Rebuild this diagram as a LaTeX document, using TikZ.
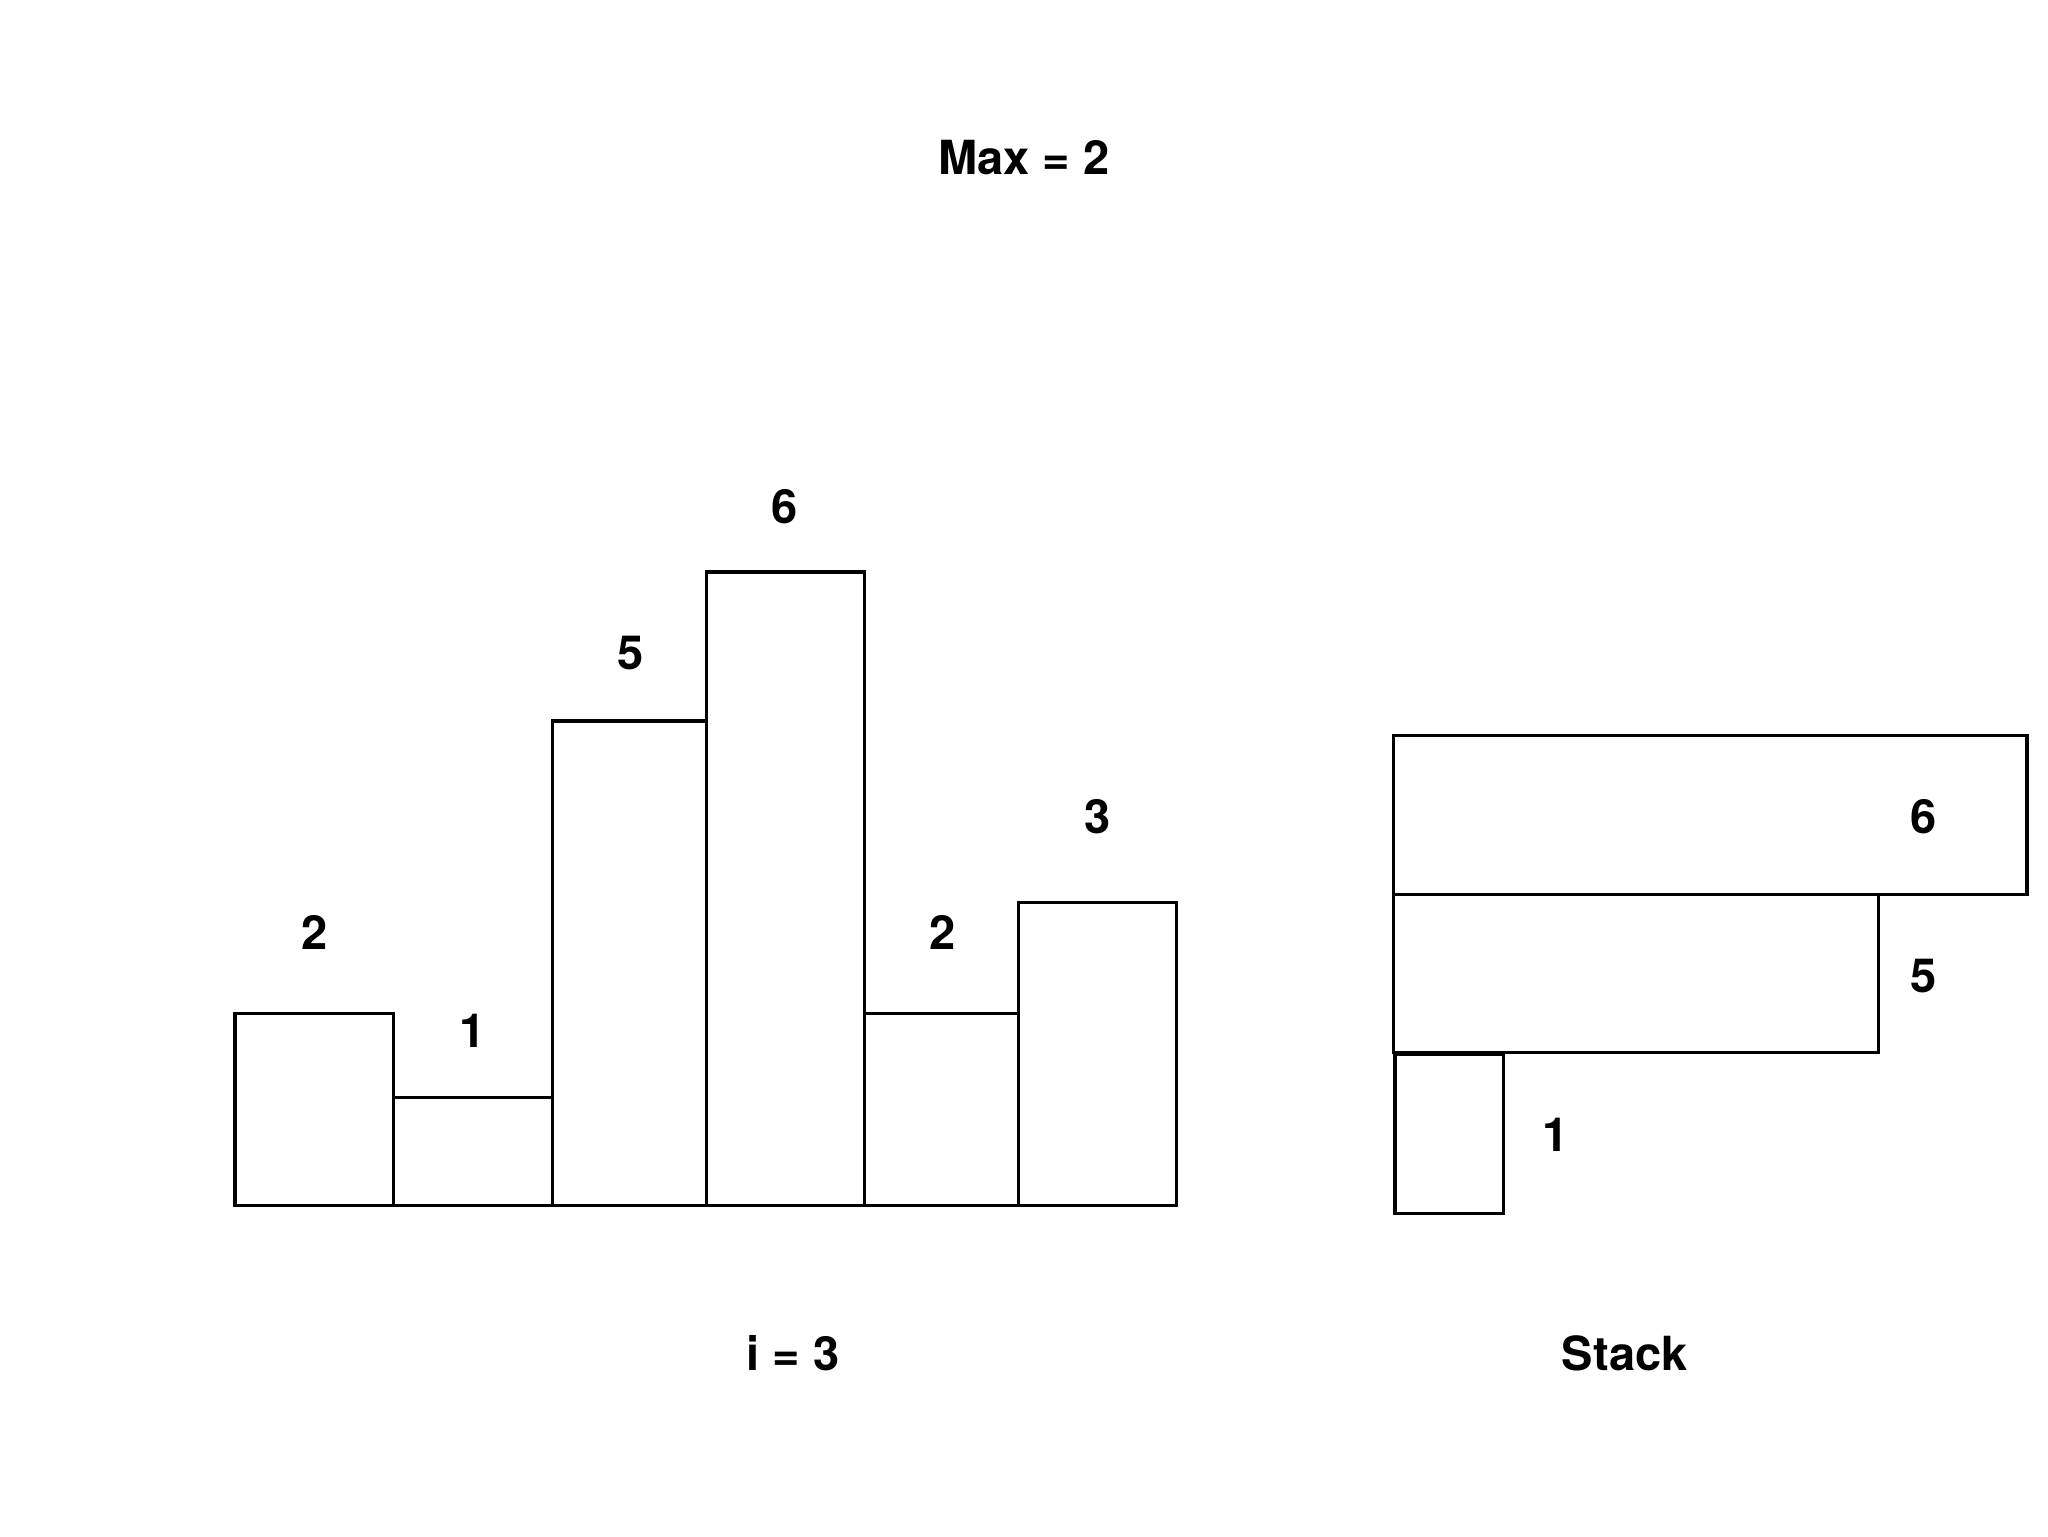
\documentclass[tikz,border=0pt]{standalone}
\usepackage{fontspec}
\setmainfont{TeX Gyre Heros}
\begin{document}
\begin{tikzpicture}[x=1pt,y=-1pt,
  bar/.style={draw=black,line width=2.5pt},
  lbl/.style={font=\bfseries\fontsize{36}{40}\selectfont,inner sep=0pt}]
\useasboundingbox (0,0) rectangle (1568,1176);
% histogram bars
\draw[bar] (180,923) rectangle (301,776);
\draw[bar] (301,923) rectangle (423,840);
\draw[bar] (423,923) rectangle (541,552);
\draw[bar] (541,923) rectangle (662,438);
\draw[bar] (662,923) rectangle (780,776);
\draw[bar] (780,923) rectangle (901,691);
\node[lbl] (l1) at (241,714) {2};
\node[lbl] (l2) at (362,789) {1};
\node[lbl] (l3) at (483,500) {5};
\node[lbl] (l4) at (601,388) {6};
\node[lbl] (l5) at (722,714) {2};
\node[lbl] (l6) at (840,625) {3};
% stack
\draw[bar] (1067,563) rectangle (1552,685);
\draw[bar] (1067,685) rectangle (1438,806);
\draw[bar] (1068,807) rectangle (1151,929);
\node[lbl] (s6) at (1473,625) {6};
\node[lbl] (s5) at (1473,747) {5};
\node[lbl] (s1) at (1191,869) {1};
% captions
\node[lbl] (max) at (784,121) {Max = 2};
\node[lbl] (idx) at (607,1036) {i = 3};
\node[lbl] (stk) at (1244,1036) {Stack};
\end{tikzpicture}
\end{document}
